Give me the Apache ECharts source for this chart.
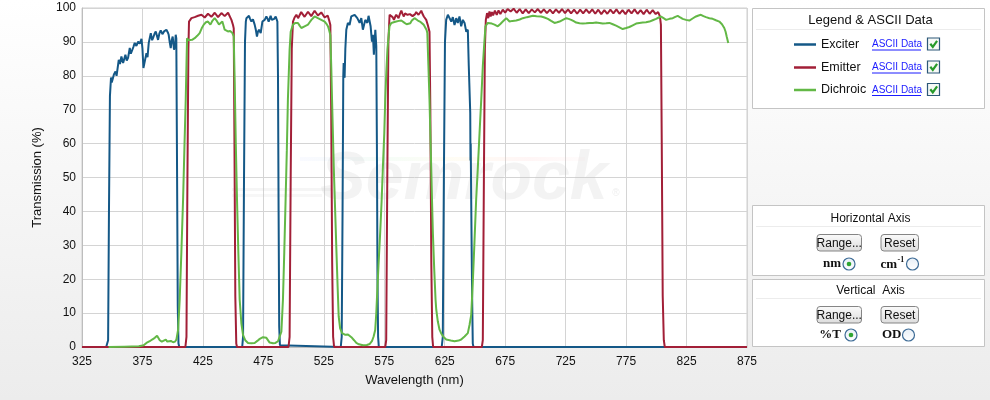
<!DOCTYPE html>
<html>
<head>
<meta charset="utf-8">
<script src="https://cdn.jsdelivr.net/npm/echarts@6/dist/echarts.min.js"></script>
<style>
html,body{margin:0;padding:0;background:#fff;}
#chart{width:990px;height:400px;}
</style>
</head>
<body>
<div id="chart"></div>
<script>
// ---------- DATA ----------
var seriesNames = ['Exciter', 'Emitter', 'Dichroic'];
var seriesColors = ['#145887', '#a21f37', '#63b846'];
var xTickLabels = [325, 375, 425, 475, 525, 575, 625, 675, 725, 775, 825, 875];
var yTickLabels = [0, 10, 20, 30, 40, 50, 60, 70, 80, 90, 100];

var exciter = [
 [325,0],[345,0],[346.6,2],[347.3,40],[348.1,74],[349,79.5],[349.6,78],[350.7,78.3],[351.5,80.5],[352.7,81.3],[353.6,80],
 [355.4,84.7],[356.4,83.5],[357.6,85.7],[359,83.8],[360.9,86.2],[362,84.5],[363.1,85.3],[364.5,88.2],[365.4,86.5],[366.4,86.7],
 [367.5,88.5],[368.6,89.7],[370,88.8],[371.4,90.1],[372.8,89.5],[374.2,90.9],[375,88],[375.8,82.3],[376.9,81.8],[378.3,86.7],
 [379.2,85.5],[380.2,89.7],[381.9,92.6],[383,90.5],[383.8,91.2],[385,92.4],[386,93.1],[387.9,90.6],[389,92.5],[390.1,93.4],
 [391.5,92.3],[392.9,93.1],[394.8,93.6],[396,92.8],[396.7,92.1],[397.5,90],[398.4,88.2],[399.2,90.5],[400,91.6],[401.1,87.7],
 [402,89],[402.5,92.1],[403,91],[403.5,60],[404.2,12],[404.8,1],[405.5,0],
 [457.5,0],[458.2,3],[459,50],[459.8,90],[460.5,96],[461,97],[462,96.5],[463.1,97.7],[464,96.8],[465.1,96],[466.4,96.7],
 [467.8,95.1],[468.8,93.5],[469.7,91.6],[470.5,93],[471.4,93.6],[472.8,92.6],[474.2,96],[475.2,95.5],[476.1,96.5],[477.5,97.5],
 [478.5,96.8],[479.4,96],[481,97.7],[482,96.5],[482.9,97],[484,96.8],[485.2,97.5],[486,97],[486.6,96],[487.1,80],[487.6,40],
 [488.1,6],[488.7,0.5],[489.5,0],
 [539,0],[539.8,3],[540.5,40],[541.1,80],[541.4,83.8],[542.2,79.4],[542.8,88],[543.6,93.6],[544.9,95.6],[546.3,95],[547.7,97.5],
 [549,97.2],[550.5,98],[551.6,97.5],[552.7,97],[554.6,95.6],[556,97],[557.3,93.6],[559.3,96.5],[561,95.6],[562,97.7],[563.7,94.6],
 [564.8,90.1],[565.6,92.1],[566.4,86.2],[567.6,93.6],[568.4,88.7],[568.9,60],[569.4,20],[569.9,3],[570.5,0],
 [622.5,0],[623.4,3],[624.3,50],[625.2,90],[626.2,96.5],[627.6,98],[629,97],[630.4,96],[631.7,97.3],[633.1,95],[634.5,97],
 [635.8,95.6],[637.2,97.5],[638.6,94.6],[640,96.5],[641.4,95.6],[642.8,93],[644.1,93.6],[644.9,82.8],[646.1,69],[646.3,55],
 [646.5,60],[646.9,43.5],[647.3,28],[647.7,14],[648.2,1],[648.8,0],[875,0]
];

var emitter = [
 [325,0],[410.5,0],[411.4,3],[412.2,50],[413,88],[413.5,96],[415.5,97],[416.8,96.5],[418.2,97.3],[419.6,96.8],[421,97.7],
 [422.4,97.2],[423.8,98],[425.1,98],[426.5,97.2],[427.9,97.5],[429.2,98.3],[430.6,98.4],[432,97.4],[433.4,97.5],[434.8,98.6],
 [436.2,98.4],[437.5,97.3],[438.9,97.7],[440.3,98.5],[441.6,98.6],[443,97.6],[444.4,97.5],[445.8,98.6],[447.2,98.4],[448.6,96.5],
 [449.9,95],[450.5,94],[451.1,60],[451.8,15],[452.6,1],[453.2,0],
 [495.8,0],[496.7,3],[497.6,50],[498.5,88],[499.5,96],[500.8,97.2],[502.3,98],[503.7,97],[505,97.5],[506.3,98.8],[507.7,98.6],
 [509.1,97.4],[510.5,97.7],[511.9,98.9],[513.3,99],[514.6,97.6],[516,98],[517.4,99.2],[518.8,99],[520.1,97.8],[521.5,97.5],
 [522.9,98.7],[524.3,98.4],[525.7,97.2],[527.1,97],[528.2,97.8],[529.3,96.5],[530.4,95],[531.1,70],[531.9,25],[532.7,3],[533.5,0],
 [575.8,0],[576.6,2],[577.5,50],[578.4,90],[579.4,98],[580.8,98.5],[581.9,97.3],[583,96.5],[584,97.4],[584.9,98],[586.8,97],
 [588,98.3],[589.1,99.2],[590.2,98.2],[591.2,97.5],[592.2,98.4],[593.2,98.8],[594.2,98],[595.1,97.5],[596.2,98.2],[597.3,98.4],
 [598.4,97.6],[599.5,97.3],[600.5,98.2],[601.4,98.8],[602.4,98.3],[603.3,98],[604.5,98.6],[605.6,99.2],[606.6,98.3],[607.7,97.5],
 [608.7,97.4],[609.7,96.5],[611,95],[611.8,94.5],[612.4,93],[613.1,70],[613.9,25],[614.7,3],[615.4,0],
 [655.7,0],[656.5,2],[657.4,50],[658.2,88],[659,96.5],[660,98.5],[661,97],[662,99],[663,97.5],[664,98.8],[665,97.8],[666.5,99.2],
 [668,98],[669.5,99.3],[671,98.2],[673,99.5],[675,98.6],[677,99.7],[679.5,99],[682,99.8],[684.5,98.6],[687,99.7],[689.5,98.4],
 [692,99.6],[694.5,98.5],[697,99.6],[699.5,98.7],[702,99.7],[704.5,98.6],[707,99.6],[709.5,98.5],[712,99.5],[714.5,98.4],
 [717,99.6],[719.5,98.6],[722,99.7],[724.5,98.5],[727,99.6],[729.5,98.4],[732,99.5],[734.5,98.3],[737,99.5],[739.5,98.4],
 [742,99.6],[744.5,98.5],[747,99.6],[749.5,98.3],[752,99.5],[754.5,98.2],[757,99.4],[759.5,98.3],[762,99.5],[764.5,98.4],
 [767,99.6],[769.5,98.3],[772,99.4],[774.5,98.2],[777,99.5],[779.5,98.4],[782,99.6],[784.5,98.3],[787,99.4],[789.5,98.2],
 [792,99.5],[794.5,98.3],[797,99.4],[799.5,98.2],[801.5,98.8],[803,97.5],[803.8,95],[804.5,60],[805.3,15],[806.2,2],[807,0],[875,0]
];

var dichroic = [
 [347,0],[360,0.1],[372,0.2],[376,0.5],[378.3,1.2],[381,1.7],[383,2.2],[385.2,2.7],[387.1,3.3],[389.3,2],[391,1.6],[392,1.7],
 [394.3,2.2],[395.5,1.6],[397,1.2],[398.5,1.8],[400.3,1.4],[402,1.6],[403.1,2.2],[404.5,5.1],[405.8,14],[407.2,28],[408.6,43.5],
 [409.8,60],[410.8,73],[411.5,85],[411.9,91.1],[413,90.5],[414.1,90.1],[416,90.6],[418.2,91.1],[420.3,91.8],[422.3,92.6],[424,94],
 [425.7,95.1],[427.5,95.8],[429.2,96],[431.2,95.1],[433,96.3],[434.7,97],[436.5,96.2],[438.3,95.1],[439.8,95.5],[441.1,96],
 [443,93.6],[445.7,93.1],[447.5,93.2],[449.4,92.6],[450.5,91.6],[451.3,77.9],[452.2,60],[453.2,43.5],[454.3,28],[455.4,14],
 [456.8,7],[458.2,3.5],[460,2],[462.3,1.2],[465,1.1],[467.8,1.2],[470,1.8],[472,2.4],[474.7,2.9],[476.1,2.9],[477.5,2.7],
 [478.8,2.2],[480.2,1.3],[483,1.1],[485,1.2],[487.1,1.7],[487.9,2],[489.9,4.5],[491.2,14],[492.3,28],[493.4,43.5],[494.4,58],
 [495.3,73],[496.7,87.7],[497.6,93],[499.5,95.1],[501.5,95.6],[503.6,95.6],[505,94.8],[506.4,94.1],[507.8,94.3],[509.1,94.6],
 [511.9,95.1],[513.3,95.8],[514.7,96.5],[517.4,97.5],[520.1,97],[522.9,96.5],[525.7,96],[527,95.4],[528.4,94.6],[529.3,93.6],
 [530.4,92],[531.2,82],[531.8,73],[533.2,53.3],[534.3,41],[535.4,28.7],[536.4,18],[537.3,9],[538.5,5.5],[540.1,4.1],[542.8,3.6],
 [545,3.7],[547.8,2.9],[550,2],[551.9,1.2],[554,0.8],[557.4,0.5],[560.6,0.6],[563,0.9],[564.8,1.7],[566.2,3.1],[567.5,5],
 [568.4,10],[568.9,14],[570.2,24],[571.6,33.6],[572.8,43],[573.9,53.3],[575,63],[575.8,73],[576.7,81],[577.6,87.7],[579.3,94.6],
 [580.8,95.6],[582.8,95.8],[584.9,96],[587,96.2],[589.1,96.3],[590.5,96],[591.8,95.6],[593.5,95.2],[595.1,94.8],[596.5,95.5],
 [597.8,96.3],[600,97],[601.5,96.7],[602.8,96.3],[604.5,96],[606.1,95.6],[607.5,95.1],[608.9,94.6],[610,93.5],[610.6,92.6],
 [611.5,83],[612.4,73],[613.1,63],[613.8,53.3],[614.5,43],[615.2,33.6],[616.3,23],[617.4,14],[618,11],[619.3,7.5],[620.7,5.1],
 [622.1,4],[624,3],[626.2,2.2],[627.6,2.2],[630,1.9],[633.1,1.7],[634.5,1.7],[636.5,1.9],[638.6,2.2],[640,2.6],[641.4,3.1],
 [643,3.6],[644.1,4.1],[645.5,6.5],[646.9,9.5],[648.2,18.9],[649.6,31],[651,43.5],[652.4,53],[653.8,63.1],[655.2,73],[656.5,82.8],
 [657.6,89],[658.7,94.6],[660.6,95.6],[662,95.6],[664,95.4],[666.2,95.1],[668.9,94.6],[671,95.3],[673,96],[675.9,97],[678.6,96],
 [681,96.2],[684.1,96.3],[687,96.6],[689.6,97],[693,97.3],[697.9,97.7],[701,97.6],[704.8,97.5],[707.5,97.2],[710.3,96.8],
 [713,96.2],[715.8,95.6],[718,95.8],[720,96],[722.7,96.5],[725.5,97],[727.5,96.8],[729.6,96.5],[731.7,96.1],[733.7,95.7],
 [736.5,95.5],[739.2,95.4],[742,95.5],[744.7,95.6],[747.5,95.6],[750.2,95.7],[753,95.6],[755.7,95.4],[758.5,95.5],[761.2,95.6],
 [764,95.2],[766.7,94.8],[769.5,94.3],[772.2,93.8],[775,94.1],[777.7,94.4],[780.5,94.9],[783.3,95.4],[786,95.6],[788.7,95.7],
 [791.5,95.8],[794.3,96],[797,96.4],[799.8,96.8],[802,97.2],[803.9,97.5],[806,97],[808.1,96.5],[810.9,96.8],[813.6,97],
 [815.7,97.4],[817.7,97.7],[819.8,97.2],[821.8,96.8],[824.5,96.5],[827.3,96.3],[830,96.9],[832.8,97.5],[834.9,97.8],[836.9,98],
 [839,97.6],[841.1,97.3],[843.9,97],[846.6,96.8],[849.3,96.4],[852.1,96],[854.3,95.2],[856.2,94.1],[857.3,93],[858.2,91.6],[859.5,89.7]
];

// ---------- CHART ----------
var X0 = xTickLabels[0];           // axis origin (nm); axis runs in nm offset from X0
var XSTEP = xTickLabels[1] - xTickLabels[0];
var FONT = '"Liberation Sans", Arial, sans-serif';

function shift(arr) { return arr.map(function (p) { return [p[0] - X0, p[1]]; }); }

var allData = [exciter, emitter, dichroic];
var series = allData.map(function (d, i) {
  return {
    name: seriesNames[i], type: 'line', data: shift(d), showSymbol: false, symbol: 'none',
    lineStyle: { width: 2, color: seriesColors[i] }, itemStyle: { color: seriesColors[i] },
    z: 3 + i, animation: false
  };
});

// ---------- side panels ----------
var G = [];
function box(x, y, w, h) {
  G.push({ type: 'rect', shape: { x: x, y: y, width: w, height: h }, style: { fill: '#fff', stroke: '#c4c4c4', lineWidth: 1 }, z: 10 });
}
function hline(x1, x2, y, c) {
  G.push({ type: 'line', shape: { x1: x1, y1: y, x2: x2, y2: y }, style: { stroke: c, lineWidth: 1 }, z: 11 });
}
function txt(t, x, y, font, fill, align) {
  G.push({ type: 'text', x: x, y: y, style: { text: t, font: font, fill: fill || '#111', align: align || 'left', verticalAlign: 'middle' }, z: 12 });
}
function button(label, x, y, w, h) {
  G.push({ type: 'rect', shape: { x: x, y: y, width: w, height: h, r: 3 },
    style: { fill: { type: 'linear', x: 0, y: 0, x2: 0, y2: 1, colorStops: [{ offset: 0, color: '#fbfbfb' }, { offset: 1, color: '#dcdcdc' }] }, stroke: '#858585', lineWidth: 1 }, z: 11 });
  txt(label, x + w / 2, y + h / 2 + 0.5, '12px ' + FONT, '#111', 'center');
}
function radio(cx, cy, on) {
  G.push({ type: 'circle', shape: { cx: cx, cy: cy, r: 6 },
    style: { fill: { type: 'linear', x: 0, y: 0, x2: 0, y2: 1, colorStops: [{ offset: 0, color: '#e6eef6' }, { offset: 1, color: '#ffffff' }] }, stroke: '#3d6b96', lineWidth: 1.2 }, z: 11 });
  if (on) G.push({ type: 'circle', shape: { cx: cx, cy: cy, r: 2.3 }, style: { fill: '#2fa532' }, z: 12 });
}
function checkbox(x, cy) {
  G.push({ type: 'rect', shape: { x: x, y: cy - 6.5, width: 12, height: 12 }, style: { fill: '#f6f9f6', stroke: '#2d5878', lineWidth: 1.2 }, z: 11 });
  G.push({ type: 'polyline', shape: { points: [[x + 2.8, cy - 0.8], [x + 5.3, cy + 2.4], [x + 9.6, cy - 3.6]] }, style: { stroke: '#279a2a', lineWidth: 2.2, fill: null }, z: 12 });
}

// Legend box
box(752.5, 8.5, 232, 100);
txt('Legend & ASCII Data', 870.5, 20.5, '13px ' + FONT, '#111', 'center');
hline(756, 981, 29.5, '#ececec');
var rowY = [44.5, 67.5, 90];
seriesNames.forEach(function (n, i) {
  var y = rowY[i];
  G.push({ type: 'line', shape: { x1: 794, y1: y, x2: 816, y2: y }, style: { stroke: seriesColors[i], lineWidth: 2.5 }, z: 12 });
  txt(n, 821, y, '12.5px ' + FONT, '#111', 'left');
  txt('ASCII Data', 872, y, '10px ' + FONT, '#1a1aff', 'left');
  hline(872, 921, y + 5.5, '#1a1aff');
  checkbox(927.5, y);
});

// Horizontal axis box
box(752.5, 205.5, 232, 70);
txt('Horizontal Axis', 870.5, 219, '12px ' + FONT, '#111', 'center');
hline(756, 981, 226.5, '#ececec');
button('Range...', 817, 234.5, 44.5, 16.5);
button('Reset', 881, 234.5, 37.5, 16.5);
txt('nm', 841, 264, 'bold 13px "Liberation Serif", serif', '#111', 'right');
radio(849, 264, true);
txt('cm', 880.5, 264.5, 'bold 13px "Liberation Serif", serif', '#111', 'left');
txt('-1', 897.5, 259.5, 'bold 8px "Liberation Serif", serif', '#111', 'left');
radio(912.5, 264, false);

// Vertical axis box
box(752.5, 279.5, 232, 67);
txt('Vertical  Axis', 870.5, 291, '12px ' + FONT, '#111', 'center');
hline(756, 981, 298.5, '#ececec');
button('Range...', 817, 306.5, 44.5, 16.5);
button('Reset', 881, 306.5, 37.5, 16.5);
txt('%T', 841, 335, 'bold 13px "Liberation Serif", serif', '#111', 'right');
radio(851, 335, true);
txt('OD', 882, 335, 'bold 13px "Liberation Serif", serif', '#111', 'left');
radio(908.5, 335, false);

// Watermark (faint, behind the curves)
G.push({ type: 'rect', shape: { x: 300, y: 157, width: 285, height: 4 },
  style: { fill: { type: 'linear', x: 0, y: 0, x2: 1, y2: 0, colorStops: [
    { offset: 0, color: 'rgba(150,170,255,0.06)' }, { offset: 0.3, color: 'rgba(150,230,170,0.09)' },
    { offset: 0.55, color: 'rgba(255,230,150,0.10)' }, { offset: 0.8, color: 'rgba(255,160,160,0.10)' }, { offset: 1, color: 'rgba(255,160,160,0.03)' }] } }, z: 1 });
G.push({ type: 'rect', shape: { x: 232, y: 188, width: 100, height: 3 }, style: { fill: 'rgba(200,200,200,0.18)' }, z: 1 });
G.push({ type: 'rect', shape: { x: 232, y: 194, width: 90, height: 3 }, style: { fill: 'rgba(200,200,200,0.15)' }, z: 1 });
G.push({ type: 'text', x: 464, y: 180, style: { text: 'Semrock', font: 'italic bold 68px ' + FONT, fill: 'rgba(200,200,200,0.22)', align: 'center', verticalAlign: 'middle' }, z: 1 });
G.push({ type: 'text', x: 616, y: 193, style: { text: '®', font: '10px ' + FONT, fill: 'rgba(200,200,200,0.3)', align: 'center', verticalAlign: 'middle' }, z: 1 });

var chart = echarts.init(document.getElementById('chart'), null, { renderer: 'canvas' });
chart.setOption({
  animation: false,
  backgroundColor: { type: 'linear', x: 0, y: 0, x2: 0, y2: 1, colorStops: [{ offset: 0, color: '#ffffff' }, { offset: 1, color: '#ececec' }] },
  grid: { left: 82, top: 8, right: 243, bottom: 53, show: true, backgroundColor: '#ffffff', borderColor: '#cfcfcf', borderWidth: 1 },
  xAxis: {
    type: 'value', min: 0, max: xTickLabels[xTickLabels.length - 1] - X0, interval: XSTEP,
    name: 'Wavelength (nm)', nameLocation: 'middle', nameGap: 27,
    nameTextStyle: { fontFamily: FONT, fontSize: 13, color: '#111' },
    axisLine: { show: true, lineStyle: { color: '#bdbdbd' } }, axisTick: { show: false },
    axisLabel: { fontFamily: FONT, fontSize: 12, color: '#111', margin: 9, formatter: function (v) { return String(v + X0); } },
    splitLine: { show: true, lineStyle: { color: '#d4d4d4', width: 1 } }
  },
  yAxis: {
    type: 'value', min: yTickLabels[0], max: yTickLabels[yTickLabels.length - 1], interval: yTickLabels[1] - yTickLabels[0],
    name: 'Transmission (%)', nameLocation: 'middle', nameGap: 38,
    nameTextStyle: { fontFamily: FONT, fontSize: 13, color: '#111' },
    axisLine: { show: true, lineStyle: { color: '#bdbdbd' } }, axisTick: { show: false },
    axisLabel: { fontFamily: FONT, fontSize: 12, color: '#111', margin: 6 },
    splitLine: { show: true, lineStyle: { color: '#d4d4d4', width: 1 } }
  },
  graphic: { elements: G },
  series: series
});
</script>
</body>
</html>
